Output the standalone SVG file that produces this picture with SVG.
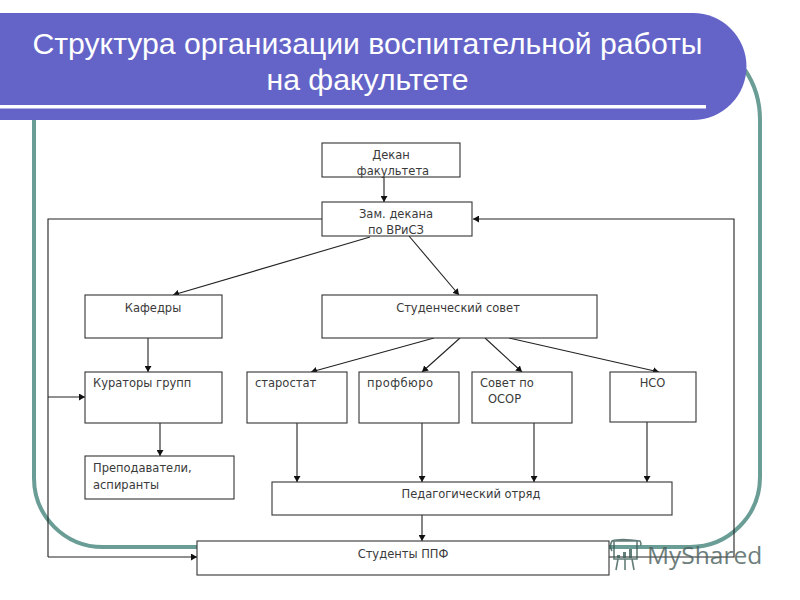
<svg xmlns="http://www.w3.org/2000/svg" width="800" height="600" viewBox="0 0 800 600">
<style>
.n{fill:#fff;stroke:#333;stroke-width:1.1}
.t{font-family:"DejaVu Sans","Noto Sans",sans-serif;font-size:11.5px;fill:#3a3a3a}
.m{text-anchor:middle}
.c{fill:none;stroke:#222;stroke-width:1.1}
.h{font-family:"Liberation Sans",Arial,sans-serif;font-size:30.2px;fill:#fff;text-anchor:middle}
</style>
<defs>
<marker id="a" markerUnits="userSpaceOnUse" markerWidth="8" markerHeight="7" refX="6" refY="3.5" orient="auto"><path d="M0 0L6 3.5L0 7Z" fill="#111"/></marker>
</defs>
<rect width="800" height="600" fill="#fff"/>
<g id="frame"><path d="M34 110V478A69 69 0 0 0 103 547H690A70 70 0 0 0 760 477V120Q760 92 745 70" fill="none" stroke="#6a9d95" stroke-width="4"/></g>
<g id="header">
<path d="M0 13H693A53.5 53.5 0 0 1 693 120H0Z" fill="#6464c8"/>
<rect x="0" y="105" width="706" height="3.5" fill="#fff"/>
<text class="h" x="367.5" y="54">Структура организации воспитательной работы</text>
<text class="h" x="367.5" y="90">на факультете</text>
</g>
<g id="connectors">
<path class="c" marker-end="url(#a)" d="M384 177V202"/>
<path class="c" d="M322 219H48V557"/>
<path class="c" marker-end="url(#a)" d="M48 397H85"/>
<path class="c" marker-end="url(#a)" d="M48 557H197"/>
<path class="c" marker-end="url(#a)" d="M609 557H734V219H473"/>
<path class="c" marker-end="url(#a)" d="M370 237L173 295"/>
<path class="c" marker-end="url(#a)" d="M409 236L459 295"/>
<path class="c" marker-end="url(#a)" d="M148 338V372"/>
<path class="c" marker-end="url(#a)" d="M160 423V456"/>
<path class="c" marker-end="url(#a)" d="M434 338L311 372"/>
<path class="c" marker-end="url(#a)" d="M460 338L422 372"/>
<path class="c" marker-end="url(#a)" d="M485 338L522 372"/>
<path class="c" marker-end="url(#a)" d="M509 338L659 372"/>
<path class="c" marker-end="url(#a)" d="M297 423V482"/>
<path class="c" marker-end="url(#a)" d="M422 423V482"/>
<path class="c" marker-end="url(#a)" d="M534 423V482"/>
<path class="c" marker-end="url(#a)" d="M647 422V482"/>
<path class="c" marker-end="url(#a)" d="M422 515V541"/>
</g>
<g id="dean"><rect class="n" x="322" y="143" width="138" height="34"/><text class="t m" x="391" y="159">Декан</text><text class="t m" x="393" y="175">факультета</text></g>
<g id="deputy"><rect class="n" x="322" y="202" width="150" height="34"/><text class="t m" x="396" y="218">Зам. декана</text><text class="t m" x="396" y="234">по ВРиСЗ</text></g>
<g id="departments"><rect class="n" x="85" y="295" width="137" height="43"/><text class="t m" x="153" y="312">Кафедры</text></g>
<g id="council"><rect class="n" x="322" y="295" width="275" height="43"/><text class="t m" x="458" y="312">Студенческий совет</text></g>
<g id="curators"><rect class="n" x="85" y="372" width="137" height="51"/><text class="t" x="93" y="387">Кураторы групп</text></g>
<g id="teachers"><rect class="n" x="85" y="456" width="149" height="43"/><text class="t" x="93" y="472">Преподаватели,</text><text class="t" x="93" y="489">аспиранты</text></g>
<g id="starostat"><rect class="n" x="247" y="372" width="100" height="51"/><text class="t" x="255" y="387">старостат</text></g>
<g id="profburo"><rect class="n" x="359" y="372" width="100" height="51"/><text class="t" x="367" y="387" textLength="66">профбюро</text></g>
<g id="osor"><rect class="n" x="472" y="372" width="100" height="51"/><text class="t" x="480" y="387">Совет по</text><text class="t" x="488" y="403">ОСОР</text></g>
<g id="nso"><rect class="n" x="610" y="372" width="86" height="50"/><text class="t m" x="652.5" y="387">НСО</text></g>
<g id="pedagog"><rect class="n" x="272" y="482" width="400" height="33"/><text class="t m" x="471" y="498">Педагогический отряд</text></g>
<g id="students"><rect class="n" x="197" y="541" width="412" height="34"/><text class="t m" x="403" y="558">Студенты ППФ</text></g>
<g id="watermark" opacity=".8">
<path d="M612 541H639M614 541V559H637V541M612 551Q609 546 612 541Q620 538 640 541Q642 545 640 545M618 559L616 570M625 559V570M632 559L634 570" fill="none" stroke="#3d5d58" stroke-width="1.6"/>
<rect x="617" y="555" width="3" height="3" fill="#3d5d58"/><rect x="623" y="552" width="3" height="6" fill="#3d5d58"/><rect x="629" y="549" width="3" height="9" fill="#3d5d58"/>
<text x="647" y="564" font-family="'Open Sans','Noto Sans',sans-serif" font-size="24.5" fill="#4a5f5c">MyShared</text>
</g>
</svg>
